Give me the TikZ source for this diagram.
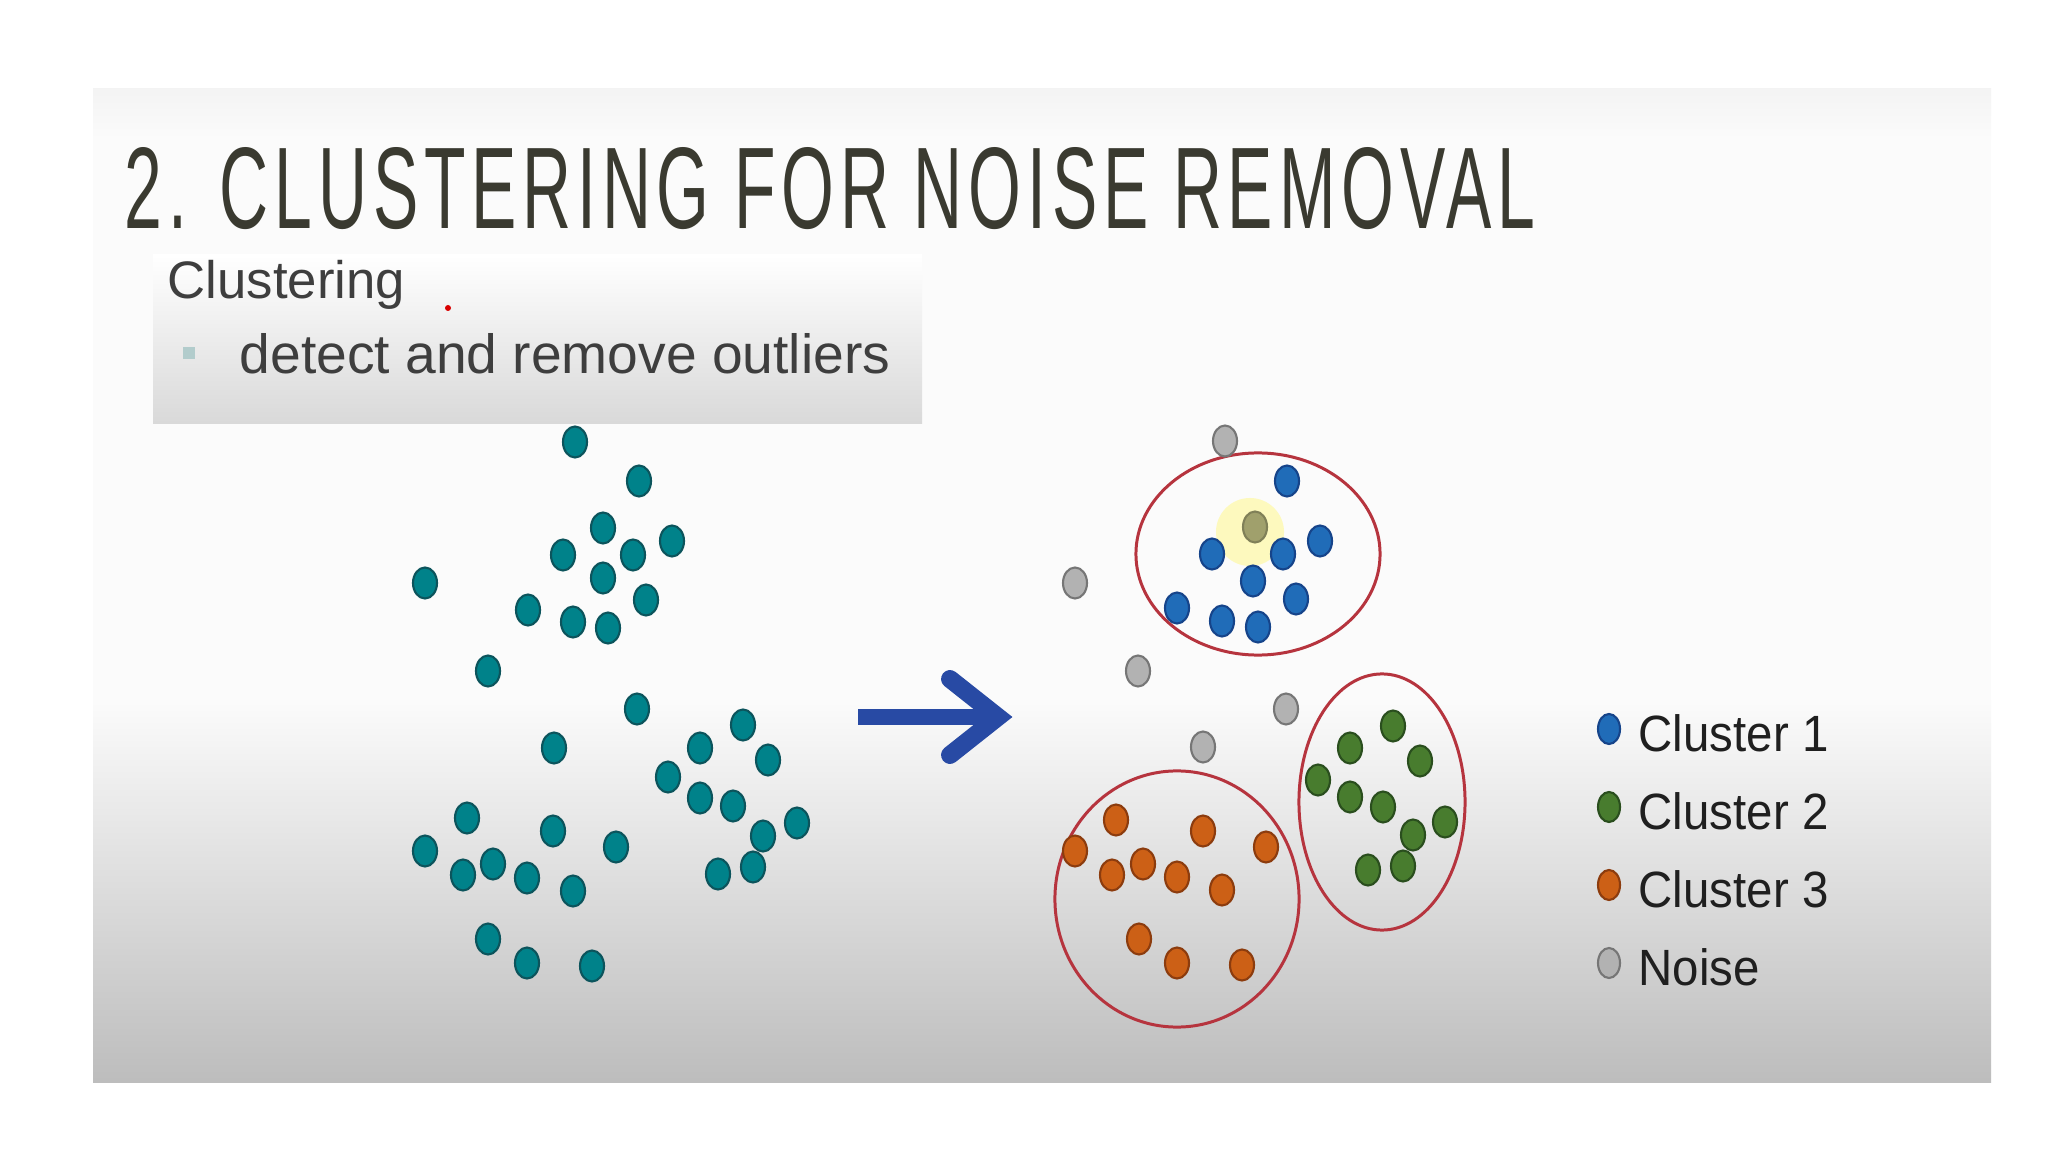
\documentclass[tikz,border=0pt]{standalone}
\usepackage{fontspec}
\setmainfont{Liberation Sans}
\newfontfamily\titlefont[FakeStretch=0.585, LetterSpace=5]{Liberation Sans}
\newfontfamily\legendfont[FakeStretch=0.93]{Liberation Sans}
\definecolor{titlegray}{RGB}{58,58,48}
\definecolor{bodygray}{RGB}{62,62,62}
\definecolor{tealfill}{RGB}{0,130,138}
\definecolor{tealedge}{RGB}{12,84,92}
\definecolor{bluefill}{RGB}{32,108,184}
\definecolor{blueedge}{RGB}{22,68,138}
\definecolor{greenfill}{RGB}{72,124,46}
\definecolor{greenedge}{RGB}{42,78,30}
\definecolor{orangefill}{RGB}{204,96,22}
\definecolor{orangeedge}{RGB}{140,60,14}
\definecolor{noisefill}{RGB}{178,178,178}
\definecolor{noiseedge}{RGB}{118,118,118}
\definecolor{ringred}{RGB}{182,52,62}
\definecolor{arrowblue}{RGB}{40,74,164}
\definecolor{olivefill}{RGB}{160,160,108}
\definecolor{oliveedge}{RGB}{128,128,88}
\tikzset{
  rawpt/.style={fill=tealfill, draw=tealedge, line width=0.6pt},
  c1pt/.style={fill=bluefill, draw=blueedge, line width=0.6pt},
  c2pt/.style={fill=greenfill, draw=greenedge, line width=0.6pt},
  c3pt/.style={fill=orangefill, draw=orangeedge, line width=0.6pt},
  noisept/.style={fill=noisefill, draw=noiseedge, line width=0.6pt},
  dotsize/.style={x radius=0.12cm, y radius=0.155cm},
  ring/.style={draw=ringred, line width=0.85pt},
  legtext/.style={anchor=base west, inner sep=0pt, font=\legendfont\fontsize{14.5}{16}\selectfont, text={black!88}}
}
\begin{document}
\begin{tikzpicture}[x=0.01cm, y=-0.01cm]
    \useasboundingbox (0,0) rectangle (2048,1152);
    \fill[white] (0,0) rectangle (2048,1152);

    % 幻灯片背景
    \fill[gray!3] (93,89) rectangle (1991,700);
    \shade[top color=gray!9, bottom color=gray!3] (93,89) rectangle (1991,140);
    \shade[top color=gray!3, bottom color=gray!52] (93,700) rectangle (1991,1082);

    % 标题
    \node[anchor=base west, inner sep=0pt, text=titlegray,
          font=\titlefont\fontsize{33}{36}\selectfont] (title) at (124,229)
        {2. CLUSTERING FOR NOISE REMOVAL};

    % 小标题框
    \shade[top color=white, bottom color=gray!30] (153,255) rectangle (922,424);
    \node[anchor=base west, inner sep=0pt, text=bodygray,
          font=\fontsize{15}{18}\selectfont] (sub) at (167,299) {Clustering};
    \fill[red!85!black] (448,308) circle (0.03cm);
    \fill[gray!50!teal!40] (183,347) rectangle (195,359);
    \node[anchor=base west, inner sep=0pt, text=bodygray,
          font=\fontsize{15.7}{19}\selectfont] (item) at (239,374) {detect and remove outliers};

    % 原始数据
    \foreach \x/\y in {575/442, 639/481, 603/528, 672/541, 563/555, 633/555, 603/578,
        425/583, 528/610, 646/600, 573/622, 608/628, 488/671, 637/709, 554/748,
        743/725, 700/748, 768/760, 668/777, 700/798, 733/806, 797/823, 763/836,
        753/867, 718/874, 467/818, 553/831, 616/847, 425/851, 463/875, 493/864,
        527/878, 573/891, 488/939, 527/963, 592/966}
        \filldraw[rawpt] (\x,\y) ellipse [dotsize];

    % 箭头
    \draw[arrowblue, line width=4.8pt] (858,717) -- (992,717);
    \draw[arrowblue, line width=5.1pt, line cap=round, line join=miter]
        (950,679) -- (998,717) -- (950,755);

    % 聚类结果
    \draw[ring] (1258,554) ellipse [x radius=1.22cm, y radius=1.01cm];
    \draw[ring] (1382,802) ellipse [x radius=0.83cm, y radius=1.28cm];
    \draw[ring] (1177,899) ellipse [x radius=1.22cm, y radius=1.28cm];

    \fill[yellow!45, opacity=0.55] (1250,532) circle (0.34cm);
    \filldraw[fill=olivefill, draw=oliveedge, line width=0.6pt] (1255,527) ellipse [dotsize];

    \foreach \x/\y in {1287/481, 1320/541, 1212/554, 1283/554, 1253/581, 1296/599,
        1177/608, 1222/621, 1258/627}
        \filldraw[c1pt] (\x,\y) ellipse [dotsize];
    \foreach \x/\y in {1393/726, 1350/748, 1420/761, 1318/780, 1350/797, 1383/807,
        1445/822, 1413/835, 1368/870, 1403/866}
        \filldraw[c2pt] (\x,\y) ellipse [dotsize];
    \foreach \x/\y in {1116/820, 1203/831, 1075/851, 1266/847, 1143/864, 1112/875,
        1177/877, 1222/890, 1139/939, 1177/963, 1242/965}
        \filldraw[c3pt] (\x,\y) ellipse [dotsize];
    \foreach \x/\y in {1225/441, 1075/583, 1138/671, 1286/709, 1203/747}
        \filldraw[noisept] (\x,\y) ellipse [dotsize];

    % 图例
    \foreach \s/\t [count=\i] in {c1pt/Cluster 1, c2pt/Cluster 2, c3pt/Cluster 3, noisept/Noise} {
        \filldraw[\s] (1609,{751+78*(\i-1)-22}) ellipse [x radius=0.11cm, y radius=0.15cm];
        \node[legtext] (leg\i) at (1638,{751+78*(\i-1)}) {\t};
    }
\end{tikzpicture}
\end{document}
